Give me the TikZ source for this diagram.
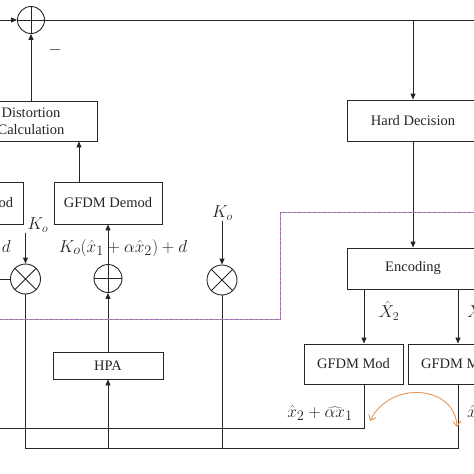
\documentclass[tikz,border=0pt]{standalone}
\usepackage{fontspec}
\setmainfont{Liberation Serif}
\usetikzlibrary{arrows.meta}
\definecolor{arcorange}{RGB}{226,152,92}
\definecolor{dashred}{RGB}{185,100,150}
\definecolor{dashblue}{RGB}{140,160,215}
\begin{document}
\begin{tikzpicture}[x=1pt,y=-1pt,
  line width=0.9pt, color=black!85,
  box/.style={draw, inner sep=0pt, font=\fontsize{14.5}{17}\selectfont, align=center},
  circ/.style={draw, circle, inner sep=0pt},
  arr/.style={-{Triangle[length=6pt,width=5pt]}},
  lab/.style={inner sep=0pt, font=\fontsize{17}{20}\selectfont},
  biglab/.style={inner sep=0pt, font=\fontsize{19}{22}\selectfont},
]
\useasboundingbox (0,0) rectangle (474,474);
\fill[white] (0,0) rectangle (474,474);

% boxes
\node[box, minimum width=132pt, minimum height=40pt] (dist) at (31,121) {Distortion\\Calculation};
\node[box, minimum width=108pt, minimum height=42pt] (demL) at (-31,203) {GFDM Demod};
\node[box, minimum width=108pt, minimum height=42pt] (dem) at (108,203) {GFDM Demod};
\node[box, minimum width=110pt, minimum height=27pt] (hpa) at (108,365.5) {HPA};
\node[box, minimum width=132pt, minimum height=41pt] (hard) at (413,120.5) {Hard Decision};
\node[box, minimum width=132pt, minimum height=41pt] (enc) at (413,268.5) {Encoding};
\node[box, minimum width=99pt, minimum height=40pt] (mod1) at (353.5,364) {GFDM Mod};
\node[box, minimum width=99pt, minimum height=40pt] (mod2) at (457.5,364) {GFDM Mod};

% circles
\node[circ, minimum size=27pt] (sum) at (31,20) {};
\node[circ, minimum size=30pt] (mulL) at (25.5,279) {};
\node[circ, minimum size=28pt] (add) at (108,278.5) {};
\node[circ, minimum size=30pt] (mulR) at (222,280) {};
\draw (sum.north) -- (sum.south) (sum.west) -- (sum.east);
\draw (add.north) -- (add.south) (add.west) -- (add.east);
\draw (mulL.north west) -- (mulL.south east) (mulL.north east) -- (mulL.south west);
\draw (mulR.north west) -- (mulR.south east) (mulR.north east) -- (mulR.south west);

% labels
\node[lab] (minus) at (55,50) {$-$};
\node[biglab, anchor=east] (lblL) at (11,248) {$K_o(\hat{x}_1+\alpha\hat{x}_2)+d$};
\node[biglab] (lblC) at (123,248) {$K_o(\hat{x}_1+\alpha\hat{x}_2)+d$};
\node[lab] (koL) at (38,225) {$K_o$};
\node[lab] (koR) at (222.5,213) {$K_o$};
\node[lab] (X2) at (389,311) {$\hat{X}_2$};
\node[lab, anchor=west] (X1) at (467,311) {$\hat{X}_1$};
\node[biglab] (s2) at (320,413) {$\hat{x}_2+\widehat{\alpha x}_1$};
\node[biglab, anchor=west] (s1) at (467,413) {$\hat{x}_1+\widehat{\alpha x}_2$};

% coordinates
\coordinate (in) at (0,20);
\coordinate (tr) at (480,20);
\coordinate (j1) at (413,20);
\coordinate (c79) at (79,0);
\coordinate (c364) at (364,0);
\coordinate (c458) at (458,0);
\coordinate (y428) at (0,428);
\coordinate (y448) at (0,448);
\coordinate (inL) at (0,279);
\coordinate (hpabot) at (108,448);

% connectors
\draw[arr] (in) -- (sum.west);
\draw (sum.east) -- (tr);
\draw[arr] (j1) -- (hard.north);
\draw[arr] (dist.north) -- (sum.south);
\draw[arr] (dem.north -| c79) -- (dist.south -| c79);
\draw[arr] (add.north) -- (dem.south);
\draw[arr] (hpa.north) -- (add.south);
\draw[arr] (hpabot) -- (hpa.south);
\draw[arr] (koL.south -| mulL) -- (mulL.north);
\draw[arr] (koR.south -| mulR) -- (mulR.north);
\draw (inL) -- (mulL.west);
\draw[arr] (hard.south) -- (enc.north);
\draw[arr] (enc.south -| c364) -- (mod1.north -| c364);
\draw[arr] (enc.south -| c458) -- (mod2.north -| c458);
\draw (mod1.south -| c364) |- (y428);
\draw (mod2.south -| c458) |- (mulL |- y448) -- (mulL.south);
\draw (mulR.south) -- (mulR |- y448);

% dashed boundary
\draw[dashblue, line width=0.9pt] (0,319.5) -- (280.5,319.5) -- (280.5,212.5) -- (480,212.5);
\draw[dashred, line width=0.9pt, dash pattern=on 3pt off 2pt] (0,319.5) -- (280.5,319.5) -- (280.5,212.5) -- (480,212.5);

% orange arc
\coordinate (oa) at (370,421);
\coordinate (ob) at (457,427);
\draw[arcorange, line width=0.9pt, {Straight Barb[length=5pt,width=8pt]}-{Straight Barb[length=5pt,width=8pt]}] (oa) .. controls (390,380) and (455,385) .. (ob);
\end{tikzpicture}
\end{document}
